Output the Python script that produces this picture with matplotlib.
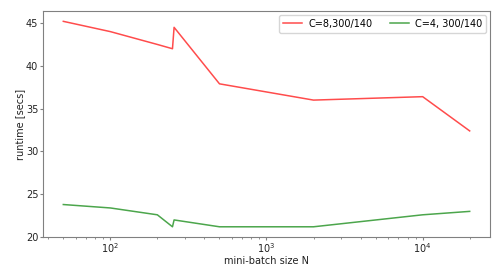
import matplotlib
matplotlib.use("Agg")
import matplotlib.pyplot as plt

# mini-batch sizes and runtimes
batch_size = [50, 100, 200, 250, 256, 500, 2000, 10000, 20000]
runtime_c8 = [45.2, 44.0, 42.5, 42.0, 44.5, 37.9, 36.0, 36.4, 32.4]
runtime_c4 = [23.8, 23.4, 22.6, 21.2, 22.0, 21.2, 21.2, 22.6, 23.0]

plt.rcParams['font.size'] = 7
plt.rcParams['xtick.major.size'] = 2.2
plt.rcParams['ytick.major.size'] = 2.2
plt.rcParams['xtick.minor.size'] = 1.3
plt.rcParams['xtick.major.pad'] = 1.0
plt.rcParams['ytick.major.pad'] = 1.2
plt.rcParams['axes.labelpad'] = 0.8
plt.rcParams['axes.edgecolor'] = '#808080'
plt.rcParams['xtick.color'] = '#808080'
plt.rcParams['ytick.color'] = '#808080'
plt.rcParams['xtick.labelcolor'] = '#222222'
plt.rcParams['ytick.labelcolor'] = '#222222'
plt.rcParams['axes.labelcolor'] = '#222222'

fig = plt.figure(figsize=(5, 2.7), dpi=100)
ax = fig.add_axes([0.086, 0.122, 0.894, 0.837])

ax.plot(batch_size, runtime_c8, color='red', alpha=0.7, lw=1.1, label='C=8,300/140')
ax.plot(batch_size, runtime_c4, color='green', alpha=0.7, lw=1.1, label='C=4, 300/140')
ax.set_xscale('log')

ax.set_xlabel('mini-batch size N')
ax.set_ylabel('runtime [secs]')
ax.legend(loc='upper right', ncol=2, borderaxespad=0.4, handletextpad=0.6,
          columnspacing=1.8, borderpad=0.4)

fig.savefig('out.png', dpi=100)
